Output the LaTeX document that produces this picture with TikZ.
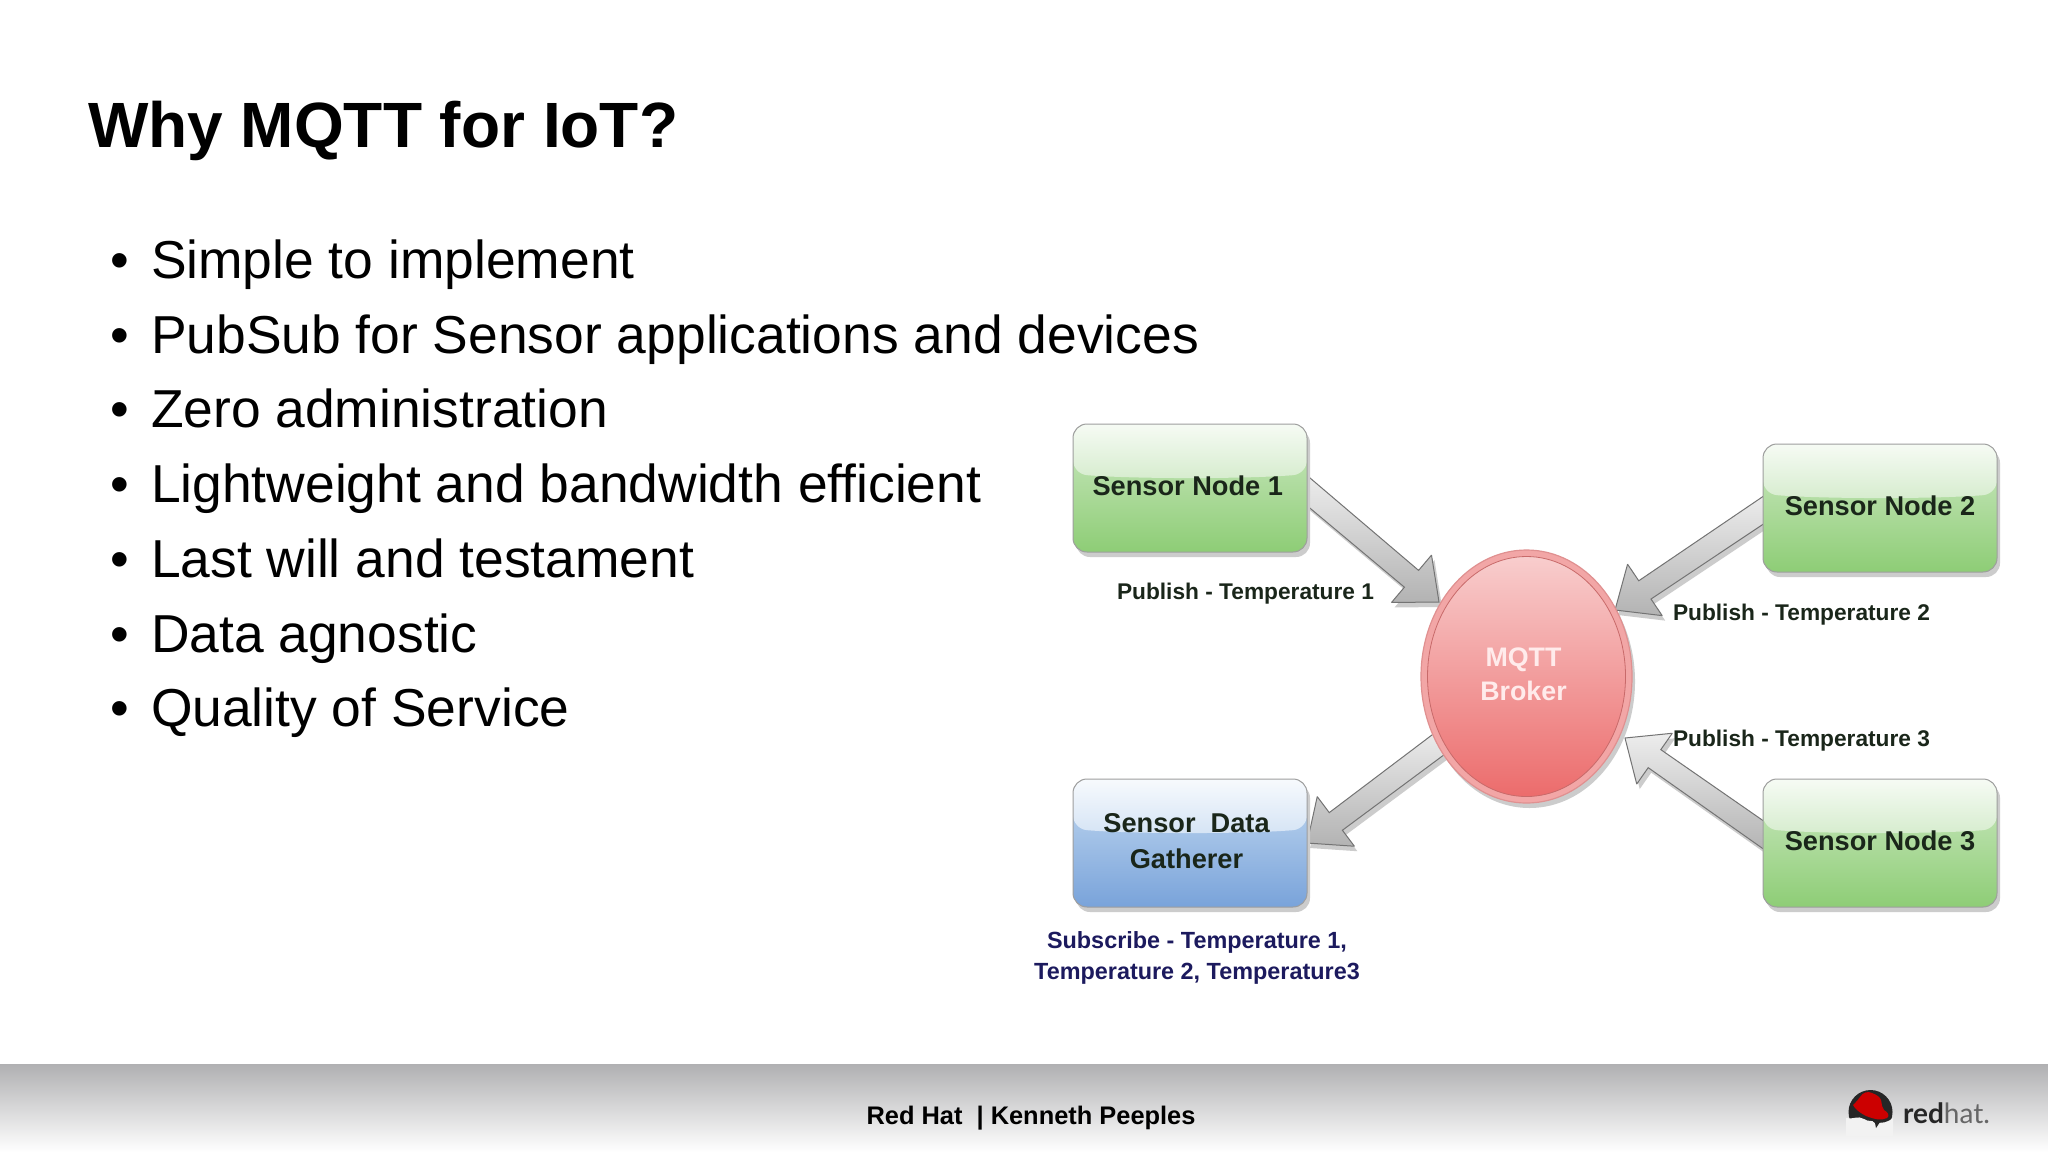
\documentclass[tikz,border=0pt]{standalone}
\usepackage{fontspec}
\setmainfont{Liberation Sans}
\newfontfamily\latofont{Lato}
\usetikzlibrary{calc,shapes.geometric,shadows}
\definecolor{txtdark}{HTML}{1A261A}
\definecolor{navy}{HTML}{1C1A5E}
\definecolor{gtop}{HTML}{F6FBF4}
\definecolor{gmid}{HTML}{ACD99C}
\definecolor{glow}{HTML}{CDE9C3}
\definecolor{gbot}{HTML}{8ECD76}
\definecolor{btop}{HTML}{F7FAFD}
\definecolor{bmid}{HTML}{A8C6EA}
\definecolor{blow}{HTML}{C4DAF1}
\definecolor{bbot}{HTML}{79A3DA}
\definecolor{hatred}{HTML}{CC0000}
\definecolor{ringpink}{HTML}{F2A6A6}
\definecolor{ringedge}{HTML}{E09090}
\definecolor{redtop}{HTML}{F8CDCD}
\definecolor{redbot}{HTML}{EC6C6C}
\definecolor{redline}{HTML}{C86A6A}
\definecolor{bandtop}{HTML}{B0B0B2}
\definecolor{bandmid}{HTML}{E0E0E2}
\tikzset{
  x=0.5pt,y=-0.5pt,
  txt/.style={inner sep=0pt,outer sep=0pt},
  titletext/.style={txt,anchor=base west,font=\fontsize{32}{38}\selectfont\bfseries},
  bodytext/.style={txt,anchor=base west,font=\fontsize{26.7}{32}\selectfont},
  labeltext/.style={txt,anchor=base west,text=txtdark,font=\fontsize{11.35}{13}\selectfont\bfseries},
  footertext/.style={txt,anchor=base,font=\fontsize{12.7}{15}\selectfont\bfseries},
  softshadow/.style={drop shadow={shadow xshift=1.5pt,shadow yshift=-2.5pt,fill=black!20,opacity=1}},
  glossbox/.style n args={4}{
    rectangle,rounded corners=7pt,minimum width=117pt,minimum height=64pt,
    inner sep=0pt,draw=black!38,line width=0.5pt,softshadow,
    top color=#3,bottom color=#4,
    path picture={
      \shade[top color=#1,bottom color=#2]
        (path picture bounding box.north west) -- (path picture bounding box.north east)
        -- ($(path picture bounding box.north east)+(0,50)$)
        .. controls ($(path picture bounding box.north east)+(-60,55)$) and ($(path picture bounding box.north west)+(60,55)$)
        .. ($(path picture bounding box.north west)+(0,50)$) -- cycle;
    },
    align=center,text=txtdark,font=\fontsize{13.6}{18.3}\selectfont\bfseries},
  greenbox/.style={glossbox={gtop}{gmid}{glow}{gbot}},
  bluebox/.style={glossbox={btop}{bmid}{blow}{bbot}},
  blockstyle/.style={draw=black!55,line width=0.5pt,miter limit=2,softshadow,
    top color=black!7,bottom color=black!30},
}
\newcommand{\boxlabel}[3]{\raisebox{#2}{\kern#1 #3}}
\newcommand{\blockarrow}[2]{%
  \coordinate (hb) at ($(#2)!18pt!(#1)$);
  \path[blockstyle]
    ($(#1)!5.8pt!90:(#2)$) -- ($(hb)!5.5pt!90:(#2)$) -- ($(hb)!15.5pt!90:(#2)$)
    -- (#2) -- ($(hb)!15.5pt!-90:(#2)$) -- ($(hb)!5.5pt!-90:(#2)$)
    -- ($(#1)!5.8pt!-90:(#2)$) -- cycle;
}
\begin{document}
\begin{tikzpicture}
\useasboundingbox (0,0) rectangle (2048,1152);
\fill[white] (0,0) rectangle (2048,1152);

% footer band
\shade[top color=bandtop,middle color=bandmid,bottom color=white] (0,1064) rectangle (2048,1152);

% title and body
\node[titletext] (title) at (88,147) {Why MQTT for IoT?};
\foreach \n/\t [count=\i from 0] in {a/Simple to implement,b/PubSub for Sensor applications and devices,c/Zero administration,d/Lightweight and bandwidth efficient,e/Last will and testament,f/Data agnostic,g/Quality of Service}{
  \node[bodytext] (bul\n) at (110,{278.5+74.7*\i}) {•};
  \node[bodytext] (line\n) at (151,{278.5+74.7*\i}) {\t};
}

% coordinates of the nodes
\coordinate (s1c) at (1190,488);
\coordinate (s2c) at (1880,508);
\coordinate (s3c) at (1880,843);
\coordinate (gc) at (1190,843);
\coordinate (bc) at (1526.5,676.5);

% block arrows (their tails run under the boxes drawn afterwards)
\coordinate (a1s) at ($(s1c)+(108,-5)$);
\coordinate (a1t) at ($(bc)+(-87.5,-74.5)$);
\coordinate (a2s) at ($(s2c)+(-106,-5)$);
\coordinate (a2t) at ($(bc)+(88.5,-66.5)$);
\coordinate (a3s) at ($(bc)+(-78,60.5)$);
\coordinate (a3t) at ($(gc)+(117,0)$);
\coordinate (a4s) at ($(s3c)+(-105,0)$);
\coordinate (a4t) at ($(bc)+(98.5,61.5)$);
\blockarrow{a1s}{a1t}
\blockarrow{a2s}{a2t}
\blockarrow{a3s}{a3t}
\blockarrow{a4s}{a4t}

% nodes
\node[greenbox] (s1) at (s1c) {\boxlabel{-2.2pt}{2pt}{Sensor Node 1}};
\node[greenbox] (s2) at (s2c) {\boxlabel{0pt}{2pt}{Sensor Node 2}};
\node[greenbox] (s3) at (s3c) {\boxlabel{0pt}{2pt}{Sensor Node 3}};
\node[bluebox] (gather) at (gc) {\boxlabel{-3.5pt}{1.5pt}{\begin{tabular}{@{}c@{}}Sensor\ \ Data\\Gatherer\end{tabular}}};
\node[ellipse,minimum width=105.5pt,minimum height=126.5pt,inner sep=0pt,
  draw=ringedge,line width=0.6pt,softshadow,fill=ringpink] (broker) at (bc) {};
\node[ellipse,minimum width=99pt,minimum height=120pt,inner sep=0pt,
  draw=redline,line width=0.4pt,
  top color=redtop,bottom color=redbot,align=center,text=white!92!red,
  font=\fontsize{13.4}{17}\selectfont\bfseries] (brokerin) at (bc) {\boxlabel{-3pt}{2.5pt}{MQTT}\\\boxlabel{-3pt}{2.5pt}{Broker}};

% labels
\node[labeltext] (p1) at (1117,599) {Publish - Temperature 1};
\node[labeltext] (p2) at (1673,620) {Publish - Temperature 2};
\node[labeltext] (p3) at (1673,746) {Publish - Temperature 3};
\node[txt,align=center,text=navy,font=\fontsize{11.7}{15.7}\selectfont\bfseries] (subs) at (1197,958)
  {Subscribe - Temperature 1,\\Temperature 2, Temperature3};

% footer text
\node[footertext] (foot) at (1031,1124) {Red Hat\ \ | Kenneth Peeples};

% logo
\fill[black!85] (1870.5,1112) circle[radius=22];
\fill[black!5] (1846,1118) .. controls (1852,1120) and (1858,1115) .. (1864,1119)
  .. controls (1868,1122) and (1872,1120) .. (1876,1122)
  .. controls (1882,1124) and (1888,1122) .. (1893,1118)
  -- (1893,1136) -- (1846,1136) -- cycle;
\fill[black!85] (1870,1119) -- (1880,1122) -- (1876,1128) -- (1875,1123) -- cycle;
\fill[hatred] (1853,1105) .. controls (1856,1102) and (1858,1100) .. (1860,1097)
  .. controls (1863,1092) and (1868,1091) .. (1872,1093)
  .. controls (1877,1095) and (1880,1097) .. (1881,1100)
  .. controls (1882,1105) and (1882,1108) .. (1884,1110)
  .. controls (1888,1112) and (1890,1116) .. (1887,1118)
  .. controls (1881,1121) and (1874,1119) .. (1866,1116)
  .. controls (1860,1113) and (1855,1109) .. (1853,1105) -- cycle;
\node[txt,anchor=base west,text=black!85,font=\latofont\fontsize{14}{16}\selectfont] (rh) at (1903,1123)
  {\textbf{red}\textcolor{black!60}{hat.}};
\end{tikzpicture}
\end{document}
